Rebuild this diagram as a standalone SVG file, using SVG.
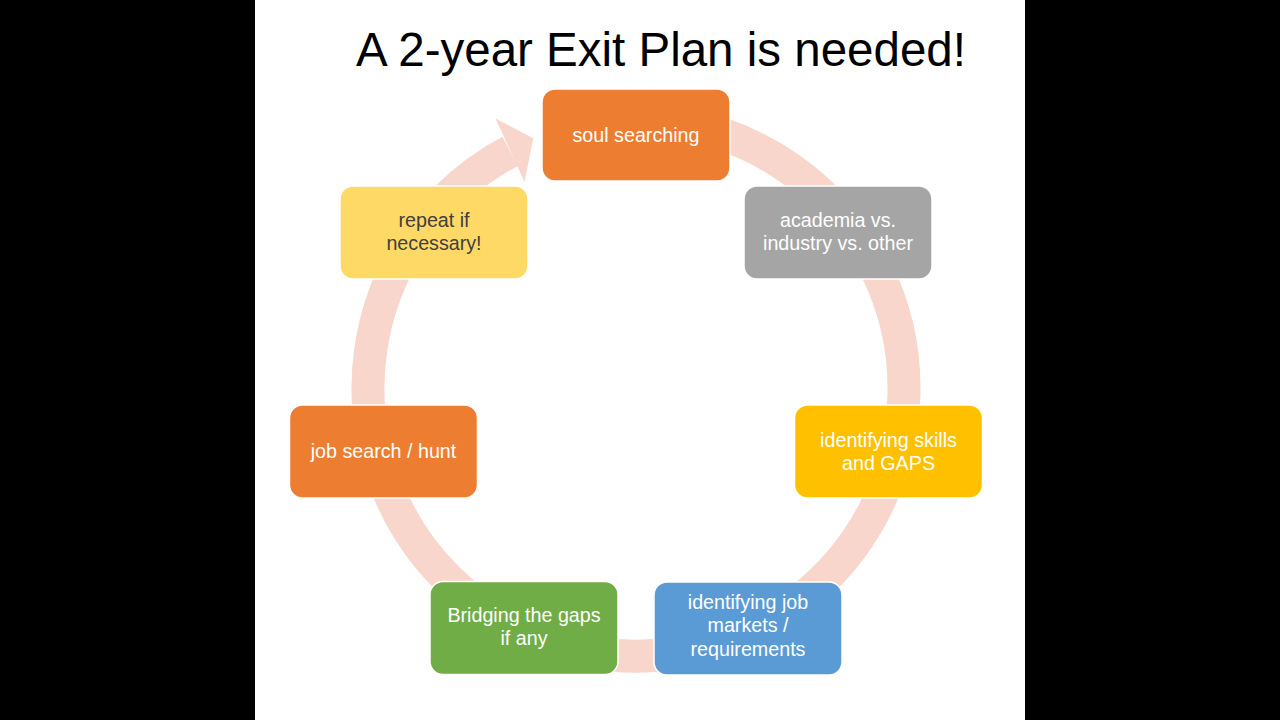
<svg xmlns="http://www.w3.org/2000/svg" width="1280" height="720" viewBox="0 0 1280 720">
<style>
.node rect{stroke:#ffffff;stroke-width:1.5}
.lbl{font-family:"Liberation Sans",Arial,sans-serif;font-size:19.7px;fill:#ffffff;text-anchor:middle}
.dark{fill:#404040}
.title{font-family:"Liberation Sans",Arial,sans-serif;font-size:47.5px;fill:#000000}
</style>
<rect x="0" y="0" width="1280" height="720" fill="#000000"/>
<rect x="255" y="0" width="770" height="720" fill="#ffffff"/>
<text class="title" x="356" y="66">A 2-year Exit Plan is needed!</text>
<g id="connectors">
<path d="M 682.5 124.1 A 268 268 0 1 1 510.2 151.4" fill="none" stroke="#F8D6CB" stroke-width="33"/>
<polygon points="495.5,118.5 533.2,138.2 524.5,182" fill="#F8D6CB"/>
</g>
<g id="node-soul" class="node">
<rect x="542" y="89" width="188" height="92" rx="13" fill="#ED7D31"/>
<text class="lbl" x="636" y="142">soul searching</text>
</g>
<g id="node-academia" class="node">
<rect x="744" y="186" width="188" height="93" rx="13" fill="#A5A5A5"/>
<text class="lbl" x="838" y="226.5">academia vs.</text>
<text class="lbl" x="838" y="250">industry vs. other</text>
</g>
<g id="node-skills" class="node">
<rect x="794.5" y="405" width="188" height="93" rx="13" fill="#FFC000"/>
<text class="lbl" x="888.5" y="446.5">identifying skills</text>
<text class="lbl" x="888.5" y="470">and GAPS</text>
</g>
<g id="node-markets" class="node">
<rect x="654" y="582" width="188" height="93" rx="13" fill="#5B9BD5"/>
<text class="lbl" x="748" y="608.5">identifying job</text>
<text class="lbl" x="748" y="632">markets /</text>
<text class="lbl" x="748" y="655.5">requirements</text>
</g>
<g id="node-bridging" class="node">
<rect x="430" y="581.5" width="188" height="93" rx="13" fill="#70AD47"/>
<text class="lbl" x="524" y="621.5">Bridging the gaps</text>
<text class="lbl" x="524" y="645">if any</text>
</g>
<g id="node-jobsearch" class="node">
<rect x="289.5" y="405" width="188" height="93" rx="13" fill="#ED7D31"/>
<text class="lbl" x="383.5" y="458">job search / hunt</text>
</g>
<g id="node-repeat" class="node">
<rect x="340" y="186" width="188" height="93" rx="13" fill="#FFD965"/>
<text class="lbl dark" x="434" y="226.5">repeat if</text>
<text class="lbl dark" x="434" y="250">necessary!</text>
</g>
</svg>
